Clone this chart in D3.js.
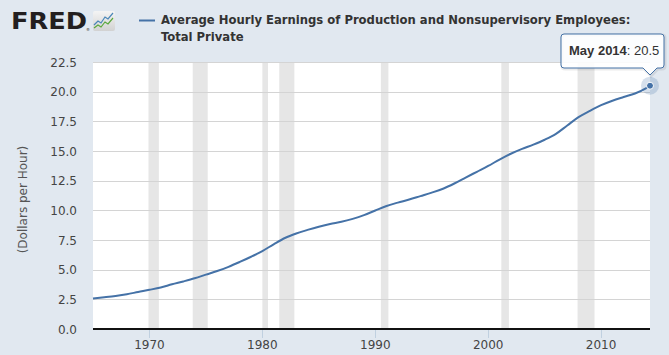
<!DOCTYPE html>
<html>
<head>
<meta charset="utf-8">
<script src="https://cdn.jsdelivr.net/npm/d3@7"></script>
<style>
  html, body { margin: 0; padding: 0; background: #e1e8f0; }
  svg { display: block; }
</style>
</head>
<body>
<svg id="chart" width="669" height="355"></svg>
<script>
// ---- Data ----
const dates = ["1965-01","1966-01","1967-01","1968-01","1969-01","1970-01","1971-01","1972-01","1973-01","1974-01",
  "1975-01","1976-01","1977-01","1978-01","1979-01","1980-01","1981-01","1982-01","1983-01","1984-01",
  "1985-01","1986-01","1987-01","1988-01","1989-01","1990-01","1991-01","1992-01","1993-01","1994-01",
  "1995-01","1996-01","1997-01","1998-01","1999-01","2000-01","2001-01","2002-01","2003-01","2004-01",
  "2005-01","2006-01","2007-01","2008-01","2009-01","2010-01","2011-01","2012-01","2013-01","2014-01","2014-05"];
const values = [2.58,2.68,2.79,2.93,3.12,3.30,3.50,3.77,4.01,4.27,
  4.58,4.89,5.24,5.65,6.09,6.57,7.14,7.67,8.05,8.35,
  8.62,8.85,9.03,9.28,9.60,9.99,10.37,10.65,10.91,11.20,
  11.49,11.82,12.26,12.76,13.25,13.74,14.28,14.77,15.18,15.54,
  15.95,16.45,17.15,17.85,18.38,18.86,19.24,19.55,19.85,20.30,20.50];
const recessionStart = ["1969-12","1973-11","1980-01","1981-07","1990-07","2001-03","2007-12"];
const recessionEnd   = ["1970-11","1975-03","1980-07","1982-11","1991-03","2001-11","2009-06"];
const yTicks = [0, 2.5, 5, 7.5, 10, 12.5, 15, 17.5, 20, 22.5];
const xTickYears = [1970, 1980, 1990, 2000, 2010];
const titleLine1 = "Average Hourly Earnings of Production and Nonsupervisory Employees:";
const titleLine2 = "Total Private";
const yAxisLabel = "(Dollars per Hour)";
const tooltipDate = "May 2014";
const tooltipValue = "20.5";

// ---- Setup ----
const parse = d3.timeParse("%Y-%m");
const data = dates.map((d, i) => ({ date: parse(d), value: values[i] }));
const svg = d3.select("#chart");
const W = 669, H = 355;
const plot = { left: 93, right: 650, top: 62, bottom: 329 };
const blue = "#4572a7";

svg.append("rect").attr("width", W).attr("height", H).attr("fill", "#e1e8f0");

const x = d3.scaleTime()
  .domain([parse("1965-01"), parse("2014-05")])
  .range([plot.left, plot.right]);
const y = d3.scaleLinear().domain([0, 22.5]).range([plot.bottom, plot.top]);

// plot background
svg.append("rect")
  .attr("x", plot.left).attr("y", plot.top)
  .attr("width", plot.right - plot.left).attr("height", plot.bottom - plot.top)
  .attr("fill", "#ffffff");

// recession bars
svg.append("g").selectAll("rect")
  .data(recessionStart.map((s, i) => [parse(s), parse(recessionEnd[i])]))
  .join("rect")
  .attr("x", d => x(d[0]))
  .attr("width", d => x(d[1]) - x(d[0]))
  .attr("y", plot.top)
  .attr("height", plot.bottom - plot.top)
  .attr("fill", "#e6e6e6");

// horizontal grid
svg.append("g").selectAll("line")
  .data(yTicks.filter(t => t > 0))
  .join("line")
  .attr("x1", plot.left).attr("x2", plot.right)
  .attr("y1", d => Math.round(y(d)) + 0.5).attr("y2", d => Math.round(y(d)) + 0.5)
  .attr("stroke", "#d4d4d4").attr("stroke-width", 1);

// y tick labels
svg.append("g").selectAll("text")
  .data(yTicks)
  .join("text")
  .attr("x", 77).attr("y", d => y(d) + 4.5)
  .attr("text-anchor", "end")
  .attr("font-family", "DejaVu Sans, Verdana, sans-serif")
  .attr("font-size", 12)
  .attr("fill", "#444")
  .text(d => d.toFixed(1));

// x ticks
const xt = xTickYears.map(yr => new Date(yr, 0, 1));
svg.append("g").selectAll("line")
  .data(xt)
  .join("line")
  .attr("x1", d => Math.round(x(d)) + 0.5).attr("x2", d => Math.round(x(d)) + 0.5)
  .attr("y1", plot.bottom).attr("y2", plot.bottom + 9)
  .attr("stroke", "#c0d0e0").attr("stroke-width", 1);
svg.append("g").selectAll("text")
  .data(xt)
  .join("text")
  .attr("x", d => x(d)).attr("y", 349)
  .attr("text-anchor", "middle")
  .attr("font-family", "DejaVu Sans, Verdana, sans-serif")
  .attr("font-size", 12)
  .attr("fill", "#444")
  .text(d => d3.timeFormat("%Y")(d));

// zero axis line
svg.append("line")
  .attr("x1", plot.left).attr("x2", plot.right)
  .attr("y1", y(0)).attr("y2", y(0))
  .attr("stroke", "#111").attr("stroke-width", 2);

// y axis label
svg.append("text")
  .attr("transform", `translate(27,${(plot.top + plot.bottom) / 2 + 4}) rotate(-90)`)
  .attr("text-anchor", "middle")
  .attr("font-family", "DejaVu Sans, Verdana, sans-serif")
  .attr("font-size", 12)
  .attr("fill", "#555")
  .text(yAxisLabel);

// series line
const line = d3.line().x(d => x(d.date)).y(d => y(d.value)).curve(d3.curveMonotoneX);
svg.append("path")
  .datum(data)
  .attr("d", line)
  .attr("fill", "none")
  .attr("stroke", blue)
  .attr("stroke-width", 2);

// hover halo + point
const last = data[data.length - 1];
const px = x(last.date), py = y(last.value);
svg.append("circle").attr("cx", px).attr("cy", py).attr("r", 9)
  .attr("fill", blue).attr("fill-opacity", 0.22);
svg.append("circle").attr("cx", px).attr("cy", py).attr("r", 3.5)
  .attr("fill", blue).attr("stroke", "#fff").attr("stroke-width", 1);

// tooltip callout
const tb = { l: 561, r: 664, t: 34, b: 68 };
const tip = { x: px, y: 75 };
const rr = 3;
const calloutPath = [
  `M${tb.l + rr},${tb.t}`,
  `L${tb.r - rr},${tb.t}`,
  `Q${tb.r},${tb.t} ${tb.r},${tb.t + rr}`,
  `L${tb.r},${tb.b - rr}`,
  `Q${tb.r},${tb.b} ${tb.r - rr},${tb.b}`,
  `L${tip.x + 7},${tb.b}`,
  `L${tip.x},${tip.y}`,
  `L${tip.x - 7},${tb.b}`,
  `L${tb.l + rr},${tb.b}`,
  `Q${tb.l},${tb.b} ${tb.l},${tb.b - rr}`,
  `L${tb.l},${tb.t + rr}`,
  `Q${tb.l},${tb.t} ${tb.l + rr},${tb.t}`, "Z"].join(" ");
svg.append("path").attr("d", calloutPath)
  .attr("transform", "translate(1,1)")
  .attr("fill", "none").attr("stroke", "#000").attr("stroke-opacity", 0.08).attr("stroke-width", 3);
svg.append("path").attr("d", calloutPath)
  .attr("fill", "#ffffff").attr("fill-opacity", 0.88)
  .attr("stroke", blue).attr("stroke-width", 1);
const tt = svg.append("text")
  .attr("x", 569).attr("y", 55)
  .attr("font-family", "Liberation Sans, Arial, sans-serif")
  .attr("font-size", 13)
  .attr("fill", "#333");
tt.append("tspan").attr("font-weight", "bold").text(tooltipDate);
tt.append("tspan").text(": " + tooltipValue);

// ---- Header ----
// legend swatch
svg.append("line").attr("x1", 139).attr("x2", 155).attr("y1", 20.5).attr("y2", 20.5)
  .attr("stroke", blue).attr("stroke-width", 2);
const t1 = svg.append("text").attr("x", 161).attr("y", 24)
  .attr("font-family", "DejaVu Sans Condensed, DejaVu Sans, sans-serif")
  .attr("font-weight", "bold").attr("font-size", 13).attr("fill", "#333")
  .text(titleLine1);
const w1 = t1.node().getComputedTextLength();
const fs = 13 * 470 / w1;
t1.attr("font-size", fs);
svg.append("text").attr("x", 161).attr("y", 41)
  .attr("font-family", "DejaVu Sans Condensed, DejaVu Sans, sans-serif")
  .attr("font-weight", "bold").attr("font-size", fs).attr("fill", "#333")
  .text(titleLine2);

// FRED logo
svg.append("text").attr("x", 11).attr("y", 29)
  .attr("font-family", "DejaVu Sans, sans-serif")
  .attr("font-weight", "bold").attr("font-size", 23)
  .attr("textLength", 76).attr("lengthAdjust", "spacingAndGlyphs")
  .attr("fill", "#231f20")
  .text("FRED");
svg.append("text").attr("x", 86).attr("y", 31)
  .attr("font-family", "DejaVu Sans, sans-serif").attr("font-size", 4)
  .attr("fill", "#231f20").text("®");
const grad = svg.append("defs").append("linearGradient").attr("id", "iconGrad")
  .attr("x1", 0).attr("y1", 0).attr("x2", 0).attr("y2", 1);
grad.append("stop").attr("offset", 0).attr("stop-color", "#f4f4f4");
grad.append("stop").attr("offset", 1).attr("stop-color", "#d2d2d2");
svg.append("rect").attr("x", 93).attr("y", 11).attr("width", 22).attr("height", 20)
  .attr("rx", 2).attr("fill", "url(#iconGrad)");
svg.append("polyline")
  .attr("points", "94,25 98,21 101,23 105,17 108,19 113,13")
  .attr("fill", "none").attr("stroke", "#4a86b8").attr("stroke-width", 1.2);
svg.append("polyline")
  .attr("points", "94,28 98,25 101,27 105,22 108,24 113,18")
  .attr("fill", "none").attr("stroke", "#5aa83c").attr("stroke-width", 1.2);
</script>
</body>
</html>
